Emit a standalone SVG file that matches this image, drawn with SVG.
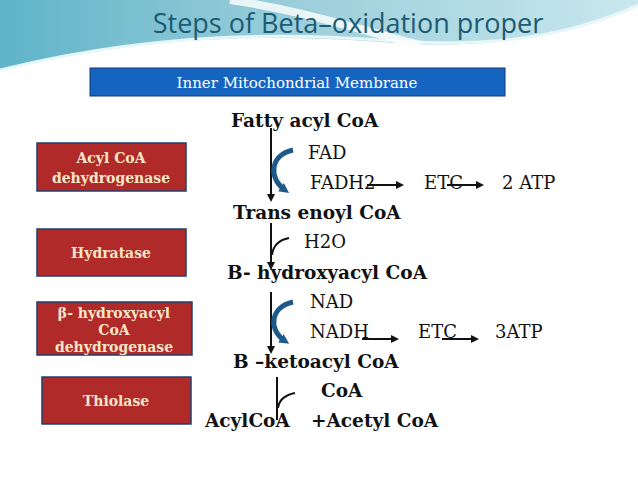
<svg xmlns="http://www.w3.org/2000/svg" width="638" height="478" viewBox="0 0 638 478">
<style>
.s{font-family:"DejaVu Serif","Liberation Serif",serif;font-size:18px;fill:#111}
.b{font-weight:bold;font-size:18.5px}
.lb{font-family:"DejaVu Serif",serif;font-size:14px;font-weight:bold;fill:#f5e6c8;text-anchor:middle}
.box{fill:#b02a2a;stroke:#1f3f6e;stroke-width:1.5}
.ln{stroke:#111;stroke-width:2;fill:none}
.cv{stroke:#1d5a8a;stroke-width:5;fill:none}
</style>
<defs>
<marker id="a" markerWidth="8" markerHeight="8" refX="6" refY="4" orient="auto" markerUnits="userSpaceOnUse"><path d="M0,0L8,4L0,8z" fill="#111"/></marker>
<marker id="c" markerWidth="10" markerHeight="10" refX="5" refY="5" orient="auto" markerUnits="userSpaceOnUse"><path d="M0,0L10,5L0,10z" fill="#1d5a8a"/></marker>
<linearGradient id="g" x1="0" y1="0" x2="1" y2="0"><stop offset="0" stop-color="#5fb4c8"/><stop offset="0.5" stop-color="#9fd0dc"/><stop offset="1" stop-color="#c8e8ee"/></linearGradient>
</defs>
<rect width="638" height="478" fill="#fff"/>
<path d="M0,0H638V5C560,40 480,50 380,42C250,32 120,40 0,70Z" fill="url(#g)"/>
<path d="M0,70C120,40 250,30 380,40C480,48 560,40 638,5" stroke="#e8f6f8" stroke-width="3" fill="none"/>
<path d="M230,0C300,10 360,30 420,45" stroke="#fff" stroke-width="8" fill="none" opacity="0.8"/>
<text x="348" y="33" font-family="Open Sans,Liberation Sans,sans-serif" font-size="27" fill="#1d5a73" text-anchor="middle">Steps of Beta–oxidation proper</text>
<g id="membrane"><rect x="90" y="68" width="415" height="28" fill="#1565c0" stroke="#103a70"/><text x="297" y="88" font-family="DejaVu Serif,serif" font-size="15" fill="#fff" text-anchor="middle">Inner Mitochondrial Membrane</text></g>
<g id="e1"><rect class="box" x="37" y="143" width="149" height="48"/><text class="lb" x="111" y="163">Acyl CoA</text><text class="lb" x="111" y="183">dehydrogenase</text></g>
<g id="e2"><rect class="box" x="37" y="229" width="149" height="47"/><text class="lb" x="111" y="258">Hydratase</text></g>
<g id="e3"><rect class="box" x="37" y="302" width="155" height="53"/><text class="lb" x="114" y="318">β- hydroxyacyl</text><text class="lb" x="114" y="335">CoA</text><text class="lb" x="114" y="352">dehydrogenase</text></g>
<g id="e4"><rect class="box" x="42" y="377" width="149" height="47"/><text class="lb" x="116" y="406">Thiolase</text></g>
<g id="texts">
<text class="s b" x="231" y="127">Fatty acyl CoA</text>
<text class="s" x="308" y="159">FAD</text>
<text class="s" x="310" y="189">FADH2</text>
<text class="s" x="424" y="189">ETC</text>
<text class="s" x="502" y="189">2 ATP</text>
<text class="s b" x="233" y="219">Trans enoyl CoA</text>
<text class="s" x="304" y="248">H2O</text>
<text class="s b" x="227" y="279">B- hydroxyacyl CoA</text>
<text class="s" x="310" y="308">NAD</text>
<text class="s" x="310" y="338">NADH</text>
<text class="s" x="418" y="338">ETC</text>
<text class="s" x="495" y="338">3ATP</text>
<text class="s b" x="233" y="368">B –ketoacyl CoA</text>
<text class="s b" x="321" y="397">CoA</text>
<text class="s b" x="205" y="427">AcylCoA</text>
<text class="s b" x="311" y="427">+Acetyl CoA</text>
</g>
<g id="connectors">
<line class="ln" x1="271" y1="128" x2="271" y2="200" marker-end="url(#a)"/>
<path class="cv" d="M293,150C270,155 268,178 285,190" marker-end="url(#c)"/>
<line class="ln" x1="367" y1="185" x2="402" y2="185" marker-end="url(#a)"/>
<line class="ln" x1="447" y1="185" x2="482" y2="185" marker-end="url(#a)"/>
<line class="ln" x1="271" y1="223" x2="271" y2="268" marker-end="url(#a)"/>
<path class="ln" d="M289,238C279,240 273,246 272,255"/>
<line class="ln" x1="271" y1="292" x2="271" y2="352" marker-end="url(#a)"/>
<path class="cv" d="M293,302C270,307 268,330 285,341" marker-end="url(#c)"/>
<line class="ln" x1="362" y1="339" x2="397" y2="339" marker-end="url(#a)"/>
<line class="ln" x1="442" y1="339" x2="477" y2="339" marker-end="url(#a)"/>
<line class="ln" x1="277" y1="377" x2="277" y2="420"/>
<path class="ln" d="M295,393C285,395 279,400 278,408"/>
</g>
</svg>
